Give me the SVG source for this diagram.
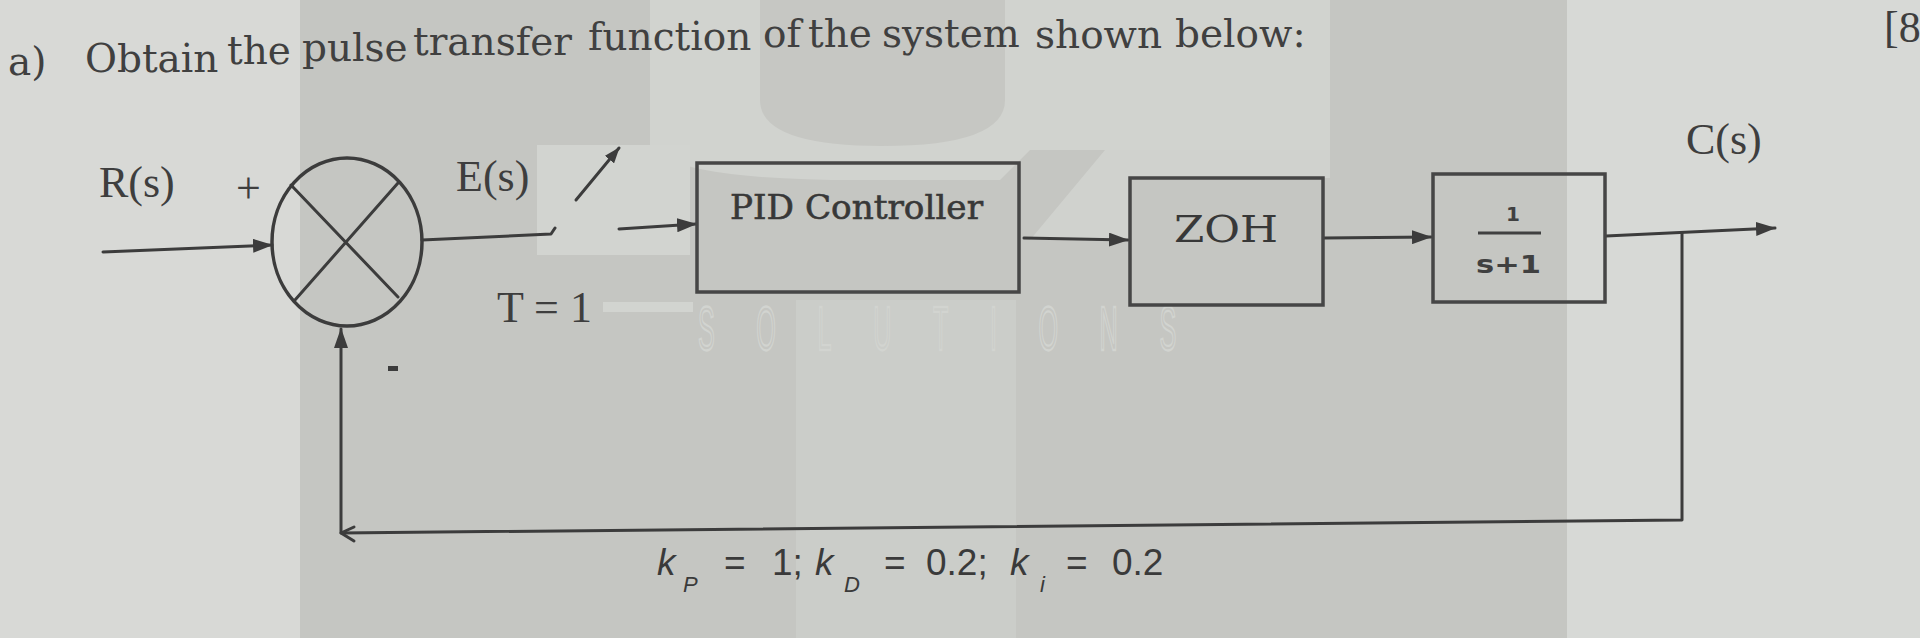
<svg xmlns="http://www.w3.org/2000/svg" width="1920" height="638" viewBox="0 0 1920 638">
<defs>
<style>
.ln{fill:none;stroke:#3c3c3c;stroke-width:3;stroke-linecap:round;stroke-linejoin:round}
.bx{fill:none;stroke:#464646;stroke-width:3.5}
.lbl{font-family:"Liberation Serif","Times New Roman",serif;font-size:44px;fill:#3e3e3e}
.ttl{font-family:"DejaVu Serif","Liberation Serif",serif;font-size:39px;fill:#404040}
.bt{font-family:"DejaVu Serif","Liberation Serif",serif;fill:#383838}
.frac{font-family:"DejaVu Sans","Liberation Sans",sans-serif;font-weight:bold;fill:#404040}
.eq{font-family:"Liberation Sans",Arial,sans-serif;font-size:37px;fill:#3a3a3a}
.it{font-style:italic}
.sub{font-size:22px;font-style:italic}
.wm{font-family:"Liberation Sans",Arial,sans-serif;font-size:42px;fill:none;stroke:#d2d4d0;stroke-width:1.5}
</style>
<marker id="ah" viewBox="0 0 20 14" refX="19" refY="7" markerWidth="20" markerHeight="14" markerUnits="userSpaceOnUse" orient="auto">
<path d="M0,0 L20,7 L0,14 Z" fill="#3c3c3c"/>
</marker>
<marker id="ahs" viewBox="0 0 16 12" refX="15" refY="6" markerWidth="16" markerHeight="12" markerUnits="userSpaceOnUse" orient="auto">
<path d="M0,0 L16,6 L0,12 Z" fill="#3c3c3c"/>
</marker>
</defs>

<g id="background">
<rect x="0" y="0" width="1920" height="638" fill="#d8d9d6"/>
<rect x="300" y="0" width="1267" height="638" fill="#c5c6c2"/>
<rect x="650" y="0" width="680" height="150" fill="#d1d3cf"/>
<path d="M760,0 V100 Q760,146 882,146 Q1005,146 1005,100 V0 Z" fill="#c6c7c3"/>
<path d="M650,150 Q690,182 880,180 L1000,180 L1030,150 Z" fill="#d1d3cf"/>
<polygon points="1030,240 1105,150 1330,150 1330,178 1130,178 1130,240" fill="#d0d2ce"/>
<rect x="537" y="145" width="153" height="110" fill="#d2d4d0"/>
<rect x="603" y="302" width="90" height="10" fill="#d2d4d0"/>
<rect x="796" y="300" width="220" height="338" fill="#cbcdc9"/>
<rect x="1567" y="0" width="353" height="638" fill="#d7d9d6"/>
<text class="wm" transform="translate(698,350) scale(0.6,1.5)" x="0" y="0" textLength="797" lengthAdjust="spacing">SOLUTIONS</text>
</g>

<g id="title">
<text class="ttl">
<tspan x="8" y="75">a)</tspan>
<tspan x="85" y="72">Obtain</tspan>
<tspan x="227" y="64">the</tspan>
<tspan x="302" y="61">pulse</tspan>
<tspan x="413" y="55">transfer</tspan>
<tspan x="588" y="50">function</tspan>
<tspan x="763" y="47">of</tspan>
<tspan x="808" y="47">the</tspan>
<tspan x="882" y="47">system</tspan>
<tspan x="1035" y="48">shown</tspan>
<tspan x="1175" y="47">below:</tspan>
</text>
<text class="lbl" x="1884" y="42" font-size="38">[8</text>
</g>

<g id="connectors">
<path class="ln" d="M103,252 L272,245" marker-end="url(#ah)"/>
<path class="ln" d="M422,240 L551,234 L555,228"/>
<path class="ln" d="M576,200 L619,148" marker-end="url(#ahs)"/>
<path class="ln" d="M619,229 L696,224" marker-end="url(#ah)"/>
<path class="ln" d="M1024,238 L1128,240" marker-end="url(#ah)"/>
<path class="ln" d="M1324,238 L1431,237" marker-end="url(#ah)"/>
<path class="ln" d="M1606,236 L1775,228" marker-end="url(#ah)"/>
<path class="ln" d="M1682,233 L1682,520 L341,533 L341,329" marker-end="url(#ah)"/>
<path class="ln" d="M354,527 L341,533 L354,541" stroke-width="2"/>
</g>

<g id="labels">
<text class="lbl" x="99" y="197">R(s)</text>
<text class="lbl" x="236" y="203" font-size="36">+</text>
<text class="lbl" x="456" y="191">E(s)</text>
<text class="lbl" x="497" y="322">T = 1</text>
<text class="lbl" x="1686" y="154">C(s)</text>
<rect x="388" y="366" width="10" height="5" fill="#3c3c3c"/>
</g>

<g id="summing-junction">
<ellipse cx="347" cy="242" rx="75" ry="84" fill="none" stroke="#3c3c3c" stroke-width="3.5"/>
<line class="ln" x1="291" y1="185" x2="398" y2="297"/>
<line class="ln" x1="398" y1="183" x2="295" y2="300" stroke-width="2.5"/>
</g>

<g id="pid-controller">
<rect class="bx" x="697" y="163" width="322" height="129"/>
<text class="bt" x="730" y="219" font-size="33" textLength="253" lengthAdjust="spacingAndGlyphs" stroke="#383838" stroke-width="0.6">PID Controller</text>
</g>

<g id="zoh">
<rect class="bx" x="1130" y="178" width="193" height="127"/>
<text class="bt" x="1174" y="242" font-size="37" textLength="104" lengthAdjust="spacingAndGlyphs">ZOH</text>
</g>

<g id="plant">
<rect class="bx" x="1433" y="174" width="172" height="128"/>
<text class="frac" x="1513" y="221" font-size="20" text-anchor="middle">1</text>
<line x1="1478" y1="233" x2="1541" y2="233" stroke="#404040" stroke-width="3"/>
<text class="frac" x="1476" y="273" font-size="25" textLength="65" lengthAdjust="spacingAndGlyphs">s+1</text>
</g>

<g id="gains">
<text class="eq" y="575"><tspan x="657" class="it">k</tspan><tspan x="683" y="592" class="sub">P</tspan><tspan x="724" y="575">= </tspan><tspan x="772">1; </tspan><tspan x="815" class="it">k</tspan><tspan x="844" y="592" class="sub">D</tspan><tspan x="884" y="575">= </tspan><tspan x="926">0.2; </tspan><tspan x="1010" class="it">k</tspan><tspan x="1040" y="592" class="sub">i</tspan><tspan x="1066" y="575">= </tspan><tspan x="1112">0.2</tspan></text>
</g>
</svg>
